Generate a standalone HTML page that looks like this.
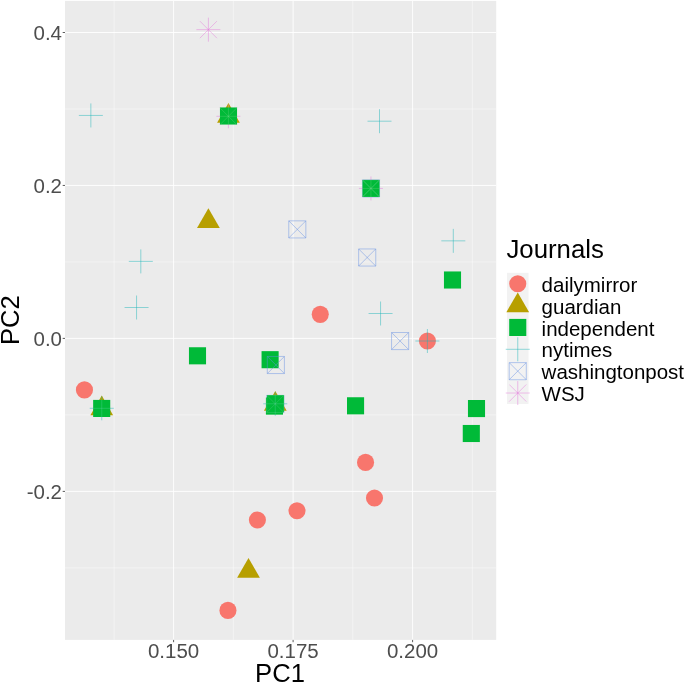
<!DOCTYPE html>
<html lang="en"><head><meta charset="utf-8"><title>PCA Journals</title>
<style>html,body{margin:0;padding:0;background:#fff}svg{display:block}</style>
</head><body>
<svg width="685" height="684" viewBox="0 0 685 684" font-family="'Liberation Sans', Arial, sans-serif">
<rect width="685" height="684" fill="#fff"/>
<rect x="65" y="0.9" width="431.2" height="639" fill="#EBEBEB"/>
<g stroke="#fff" stroke-width="0.5" stroke-opacity="0.85">
<path d="M114.1 0.9V639.9"/>
<path d="M233.3 0.9V639.9"/>
<path d="M352.8 0.9V639.9"/>
<path d="M472.3 0.9V639.9"/>
<path d="M65 109H496.2"/>
<path d="M65 261.95H496.2"/>
<path d="M65 414.9H496.2"/>
<path d="M65 567.9H496.2"/>
</g><g stroke="#fff" stroke-width="0.9">
<path d="M173.6 0.9V639.9"/>
<path d="M293.1 0.9V639.9"/>
<path d="M412.6 0.9V639.9"/>
<path d="M65 32.5H496.2"/>
<path d="M65 185.45H496.2"/>
<path d="M65 338.4H496.2"/>
<path d="M65 491.4H496.2"/>
</g>
<g stroke="#333" stroke-width="0.8">
<path d="M173.6 639.9v2.3"/>
<path d="M293.1 639.9v2.3"/>
<path d="M412.6 639.9v2.3"/>
<path d="M65 32.5h-2.3"/>
<path d="M65 185.45h-2.3"/>
<path d="M65 338.4h-2.3"/>
<path d="M65 491.4h-2.3"/>
</g>
<g>
<circle cx="84.45" cy="389.9" r="8.55" fill="#F8766D"/>
<circle cx="320.25" cy="314.35" r="8.55" fill="#F8766D"/>
<circle cx="427.4" cy="341" r="8.55" fill="#F8766D"/>
<circle cx="365.55" cy="462.4" r="8.55" fill="#F8766D"/>
<circle cx="374.5" cy="497.95" r="8.55" fill="#F8766D"/>
<circle cx="297" cy="510.75" r="8.55" fill="#F8766D"/>
<circle cx="257.4" cy="519.95" r="8.55" fill="#F8766D"/>
<circle cx="227.95" cy="610.4" r="8.55" fill="#F8766D"/>
<path d="M228.45 103.05L239.84 122.78L217.06 122.78Z" fill="#B79F00"/>
<path d="M208.4 208.15L219.79 227.88L197.01 227.88Z" fill="#B79F00"/>
<path d="M101.75 395.45L113.14 415.18L90.36 415.18Z" fill="#B79F00"/>
<path d="M275.3 390.95L286.69 410.68L263.91 410.68Z" fill="#B79F00"/>
<path d="M248.5 558.05L259.89 577.78L237.11 577.78Z" fill="#B79F00"/>
<path d="M89.75 408.3H113.75M101.75 396.3V420.3" stroke="#1CB4B9" stroke-width="0.47" fill="none"/>
<path d="M263.25 403.8H287.25M275.25 391.8V415.8" stroke="#1CB4B9" stroke-width="0.47" fill="none"/>
<path d="M362.45 179.9H379.55V197H362.45ZM362.45 179.9L379.55 197M362.45 197L379.55 179.9" stroke="#6590E4" stroke-width="0.47" fill="none"/>
<path d="M266.75 395.35H283.85V412.45H266.75ZM266.75 395.35L283.85 412.45M266.75 412.45L283.85 395.35" stroke="#6590E4" stroke-width="0.47" fill="none"/>
<path d="M216.4 116.3H240.4M228.4 104.3V128.3M219.85 107.75L236.95 124.85M219.85 124.85L236.95 107.75" stroke="#E47ADA" stroke-width="0.47" fill="none"/>
<path d="M358.95 188.45H382.95M370.95 176.45V200.45M362.4 179.9L379.5 197M362.4 197L379.5 179.9" stroke="#E47ADA" stroke-width="0.47" fill="none"/>
<rect x="219.95" y="107.45" width="17.1" height="17.1" fill="#00BA38"/>
<rect x="362.45" y="179.9" width="17.1" height="17.1" fill="#00BA38"/>
<rect x="443.95" y="271.45" width="17.1" height="17.1" fill="#00BA38"/>
<rect x="188.95" y="347.25" width="17.1" height="17.1" fill="#00BA38"/>
<rect x="261.55" y="351.15" width="17.1" height="17.1" fill="#00BA38"/>
<rect x="93.15" y="399.9" width="17.1" height="17.1" fill="#00BA38"/>
<rect x="265.9" y="397.55" width="17.1" height="17.1" fill="#00BA38"/>
<rect x="266.95" y="395.05" width="17.1" height="17.1" fill="#00BA38"/>
<rect x="347" y="397.25" width="17.1" height="17.1" fill="#00BA38"/>
<rect x="467.95" y="400" width="17.1" height="17.1" fill="#00BA38"/>
<rect x="462.75" y="424.95" width="17.1" height="17.1" fill="#00BA38"/>
<path d="M78.85 115.45H102.85M90.85 103.45V127.45" stroke="#1CB4B9" stroke-width="0.47" fill="none"/>
<path d="M367.5 121.2H391.5M379.5 109.2V133.2" stroke="#1CB4B9" stroke-width="0.47" fill="none"/>
<path d="M441.3 240.85H465.3M453.3 228.85V252.85" stroke="#1CB4B9" stroke-width="0.47" fill="none"/>
<path d="M128.8 261.4H152.8M140.8 249.4V273.4" stroke="#1CB4B9" stroke-width="0.47" fill="none"/>
<path d="M124.55 307.5H148.55M136.55 295.5V319.5" stroke="#1CB4B9" stroke-width="0.47" fill="none"/>
<path d="M368.55 313.5H392.55M380.55 301.5V325.5" stroke="#1CB4B9" stroke-width="0.47" fill="none"/>
<path d="M415.4 341H439.4M427.4 329V353" stroke="#1CB4B9" stroke-width="0.47" fill="none"/>
<path d="M288.75 220.85H305.85V237.95H288.75ZM288.75 220.85L305.85 237.95M288.75 237.95L305.85 220.85" stroke="#6590E4" stroke-width="0.47" fill="none"/>
<path d="M358.65 248.95H375.75V266.05H358.65ZM358.65 248.95L375.75 266.05M358.65 266.05L375.75 248.95" stroke="#6590E4" stroke-width="0.47" fill="none"/>
<path d="M391.55 332.5H408.65V349.6H391.55ZM391.55 332.5L408.65 349.6M391.55 349.6L408.65 332.5" stroke="#6590E4" stroke-width="0.47" fill="none"/>
<path d="M267.3 356.45H284.4V373.55H267.3ZM267.3 356.45L284.4 373.55M267.3 373.55L284.4 356.45" stroke="#6590E4" stroke-width="0.47" fill="none"/>
<path d="M196.4 29.65H220.4M208.4 17.65V41.65M199.85 21.1L216.95 38.2M199.85 38.2L216.95 21.1" stroke="#E47ADA" stroke-width="0.47" fill="none"/>
<clipPath id="sqc">
<rect x="219.95" y="107.45" width="17.1" height="17.1"/>
<rect x="362.45" y="179.9" width="17.1" height="17.1"/>
<rect x="443.95" y="271.45" width="17.1" height="17.1"/>
<rect x="188.95" y="347.25" width="17.1" height="17.1"/>
<rect x="261.55" y="351.15" width="17.1" height="17.1"/>
<rect x="93.15" y="399.9" width="17.1" height="17.1"/>
<rect x="265.9" y="397.55" width="17.1" height="17.1"/>
<rect x="266.95" y="395.05" width="17.1" height="17.1"/>
<rect x="347" y="397.25" width="17.1" height="17.1"/>
<rect x="467.95" y="400" width="17.1" height="17.1"/>
<rect x="462.75" y="424.95" width="17.1" height="17.1"/>
</clipPath><g clip-path="url(#sqc)" stroke-opacity="0.5">
<path d="M89.75 408.3H113.75M101.75 396.3V420.3" stroke="#7FE3D0" stroke-width="0.47" fill="none"/>
<path d="M263.25 403.8H287.25M275.25 391.8V415.8" stroke="#7FE3D0" stroke-width="0.47" fill="none"/>
<path d="M362.45 179.9H379.55V197H362.45ZM362.45 179.9L379.55 197M362.45 197L379.55 179.9" stroke="#7FD6B0" stroke-width="0.47" fill="none"/>
<path d="M266.75 395.35H283.85V412.45H266.75ZM266.75 395.35L283.85 412.45M266.75 412.45L283.85 395.35" stroke="#7FD6B0" stroke-width="0.47" fill="none"/>
<path d="M216.4 116.3H240.4M228.4 104.3V128.3M219.85 107.75L236.95 124.85M219.85 124.85L236.95 107.75" stroke="#8FDDA0" stroke-width="0.47" fill="none"/>
<path d="M358.95 188.45H382.95M370.95 176.45V200.45M362.4 179.9L379.5 197M362.4 197L379.5 179.9" stroke="#8FDDA0" stroke-width="0.47" fill="none"/>
</g>
</g>
<g font-size="20.5" fill="#4D4D4D">
<text transform="translate(62 40.3) scale(1 1.03)" text-anchor="end">0.4</text>
<text transform="translate(62 193.25) scale(1 1.03)" text-anchor="end">0.2</text>
<text transform="translate(62 346.2) scale(1 1.03)" text-anchor="end">0.0</text>
<text transform="translate(62 499.2) scale(1 1.03)" text-anchor="end">-0.2</text>
<text transform="translate(173.6 657.8) scale(1 1.03)" text-anchor="middle">0.150</text>
<text transform="translate(293.1 657.8) scale(1 1.03)" text-anchor="middle">0.175</text>
<text transform="translate(412.6 657.8) scale(1 1.03)" text-anchor="middle">0.200</text>
</g>
<text transform="translate(280 681.8) scale(1 1.02)" font-size="25.6" text-anchor="middle" fill="#000">PC1</text>
<text transform="translate(19.4 320.2) rotate(-90) scale(1 1.02)" font-size="25.6" text-anchor="middle" fill="#000">PC2</text>
<text transform="translate(506.4 257.8) scale(1 1.03)" font-size="25.8" fill="#000">Journals</text>
<rect x="507" y="272.8" width="21.5" height="131.16" fill="#F2F2F2"/>
<circle cx="517.75" cy="283.73" r="8.55" fill="#F8766D"/>
<text x="541.6" y="291.83" font-size="20.5" fill="#000">dailymirror</text>
<path d="M517.75 292.44L529.14 312.17L506.36 312.17Z" fill="#B79F00"/>
<text x="541.6" y="313.69" font-size="20.5" fill="#000">guardian</text>
<rect x="509.2" y="318.9" width="17.1" height="17.1" fill="#00BA38"/>
<text x="541.6" y="335.55" font-size="20.5" fill="#000">independent</text>
<path d="M505.75 349.31H529.75M517.75 337.31V361.31" stroke="#1CB4B9" stroke-width="0.47" fill="none"/>
<text x="541.6" y="357.41" font-size="20.5" fill="#000">nytimes</text>
<path d="M509.2 362.62H526.3V379.72H509.2ZM509.2 362.62L526.3 379.72M509.2 379.72L526.3 362.62" stroke="#6590E4" stroke-width="0.47" fill="none"/>
<text x="541.6" y="379.27" font-size="20.5" fill="#000">washingtonpost</text>
<path d="M505.75 393.03H529.75M517.75 381.03V405.03M509.2 384.48L526.3 401.58M509.2 401.58L526.3 384.48" stroke="#E47ADA" stroke-width="0.47" fill="none"/>
<text x="541.6" y="401.13" font-size="20.5" fill="#000">WSJ</text>
</svg>
</body></html>
